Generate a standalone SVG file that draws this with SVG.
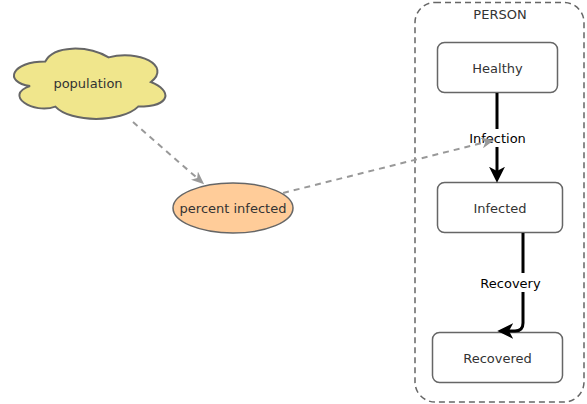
<svg xmlns="http://www.w3.org/2000/svg" width="587" height="404" viewBox="0 0 587 404">
  <style>
    .node { fill: #ffffff; stroke: #666666; stroke-width: 1.5; }
    .txt { font-family: "DejaVu Sans", "Liberation Sans", sans-serif; font-size: 13px; fill: #333333; text-anchor: middle; dominant-baseline: central; }
    .lbl { font-family: "DejaVu Sans", "Liberation Sans", sans-serif; font-size: 13px; fill: #000000; text-anchor: middle; dominant-baseline: central; }
    .flow { fill: none; stroke: #000000; stroke-width: 3; }
    .link { fill: none; stroke: #999999; stroke-width: 2; stroke-dasharray: 6 5; }
  </style>
  <defs>
    <marker id="blackArrow" markerUnits="userSpaceOnUse" markerWidth="16" markerHeight="16" viewBox="0 0 15 15" refX="4" refY="7.5" orient="auto">
      <path d="M0,0 L15,7.5 L0,15 L4,7.5 Z" fill="#000000"/>
    </marker>
    <marker id="greyArrow" markerUnits="userSpaceOnUse" markerWidth="13" markerHeight="11" viewBox="0 0 12 10" refX="3.5" refY="5" orient="auto">
      <path d="M0,0 L12,5 L0,10 L3.5,5 Z" fill="#999999"/>
    </marker>
  </defs>

  <g id="person">
    <rect x="415" y="2.5" width="169" height="399.5" rx="20" ry="20" fill="none" stroke="#666666" stroke-width="1.5" stroke-dasharray="6 4"/>
    <text class="txt" x="500" y="14">PERSON</text>
  </g>

  <g id="population">
    <path class="node" style="fill:#f0e68c; stroke-width:2" d="M45.25,61.5 C11.45,61.5 3,82 30.04,86.1 C3,95.1 33.42,114.8 55.39,106.6 C70.6,123 121.3,123 138.2,106.6 C172,106.6 172,90.2 150.9,82 C172,65.6 138.2,49.2 108.6,57.4 C87.5,45.1 53.7,45.1 45.25,61.5 Z"/>
    <text class="txt" x="88" y="83">population</text>
  </g>

  <g id="percent-infected">
    <ellipse class="node" style="fill:#ffcc99" cx="233" cy="208" rx="60" ry="25"/>
    <text class="txt" x="233" y="208">percent infected</text>
  </g>

  <g id="healthy">
    <rect class="node" x="437.5" y="42.5" width="120" height="50" rx="7" ry="7"/>
    <text class="txt" x="497.5" y="68">Healthy</text>
  </g>

  <g id="infected">
    <rect class="node" x="437.5" y="182.5" width="125" height="50" rx="7" ry="7"/>
    <text class="txt" x="500" y="208">Infected</text>
  </g>

  <g id="recovered">
    <rect class="node" x="432.5" y="332.5" width="130" height="50" rx="7" ry="7"/>
    <text class="txt" x="497.5" y="358">Recovered</text>
  </g>

  <g id="connectors">
    <path class="flow" d="M497,93 V171" marker-end="url(#blackArrow)"/>
    <rect x="467" y="129" width="61" height="18" fill="#ffffff"/>
    <text class="lbl" x="497.5" y="138">Infection</text>

    <path class="flow" d="M523,233 V323 Q523,331 515,331 H509" marker-end="url(#blackArrow)"/>
    <rect x="481" y="273" width="59" height="19" fill="#ffffff"/>
    <text class="lbl" x="510.5" y="283">Recovery</text>

    <path class="link" d="M133,122 L197.2,178.1" marker-end="url(#greyArrow)"/>
    <path class="link" d="M283,193 L485.3,142.2" marker-end="url(#greyArrow)"/>
  </g>
</svg>
